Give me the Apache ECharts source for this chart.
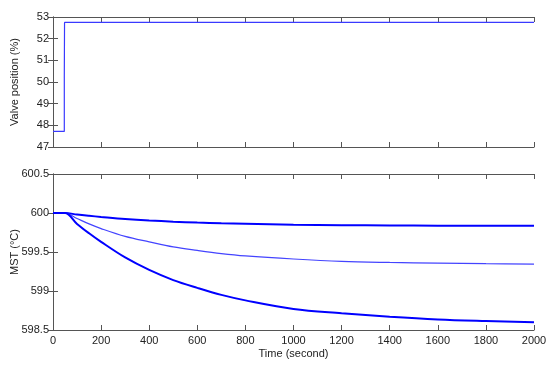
<!DOCTYPE html>
<html>
<head>
<meta charset="utf-8">
<script src="https://cdn.jsdelivr.net/npm/echarts@6/dist/echarts.min.js"></script>
<style>html,body{margin:0;padding:0;background:#fff}#c{width:550px;height:365px}</style>
</head>
<body>
<div id="c"></div>
<script>
// Valve position (top panel)
const valveTime = [0, 47, 47, 48, 48, 2000];
const valvePos  = [47.72, 47.72, 50.2, 50.2, 52.75, 52.75];

// MST (bottom panel)
const mstTime = [0, 50, 100, 150, 200, 300, 400, 500, 600, 700, 800, 1000, 1200, 1400, 1600, 1800, 2000];
const mstA = [600, 600, 599.98, 599.964, 599.95, 599.924, 599.904, 599.889, 599.877, 599.868, 599.861, 599.85, 599.844, 599.84, 599.838, 599.836, 599.835];
const mstB = [600, 600, 599.93, 599.86, 599.80, 599.70, 599.63, 599.565, 599.52, 599.48, 599.45, 599.41, 599.38, 599.366, 599.357, 599.35, 599.345];
const mstC = [600, 600, 599.86, 599.74, 599.63, 599.43, 599.27, 599.14, 599.04, 598.95, 598.88, 598.77, 598.715, 598.67, 598.635, 598.615, 598.60];

const pair = (xs, ys) => xs.map((x, i) => [x, ys[i]]);

const axisCol = '#555';
const font = 'Liberation Sans, Arial, sans-serif';
const lab = {color: '#222', fontSize: 11, fontFamily: font};

function xA(grid, pos, showLabel, name) {
  return {
    type: 'value', gridIndex: grid, position: pos, min: 0, max: 2000, interval: 200,
    axisLine: {show: true, lineStyle: {color: axisCol, width: 1}},
    axisTick: {show: true, inside: true, length: 5, lineStyle: {color: axisCol}},
    axisLabel: Object.assign({show: showLabel, margin: 5, formatter: v => String(v)}, lab),
    splitLine: {show: false},
    name: name || '', nameLocation: 'middle', nameGap: 18, nameMoveOverlap: false,
    nameTextStyle: lab
  };
}
function yA(grid, pos, min, max, interval, showLabel, name) {
  return {
    type: 'value', gridIndex: grid, position: pos, min: min, max: max, interval: interval,
    axisLine: {show: true, lineStyle: {color: axisCol, width: 1}},
    axisTick: {show: true, inside: true, length: 5, lineStyle: {color: axisCol}},
    axisLabel: Object.assign({show: showLabel, margin: 4, formatter: v => String(v)}, lab),
    splitLine: {show: false},
    name: name || '', nameLocation: 'middle', nameGap: 33, nameRotate: 90, nameMoveOverlap: false,
    nameTextStyle: lab
  };
}

const chart = echarts.init(document.getElementById('c'), null, {renderer: 'canvas'});
chart.setOption({
  animation: false,
  backgroundColor: '#fff',
  grid: [
    {left: 53, right: 16, top: 17, height: 130, outerBoundsMode: 'none', containLabel: false},
    {left: 53, right: 16, top: 174, height: 156, outerBoundsMode: 'none', containLabel: false}
  ],
  xAxis: [
    xA(0, 'bottom', false),
    xA(0, 'top', false),
    xA(1, 'bottom', true, 'Time (second)'),
    xA(1, 'top', false)
  ],
  yAxis: [
    yA(0, 'left', 47, 53, 1, true, 'Valve position (%)'),
    yA(0, 'right', 47, 53, 1, false),
    yA(1, 'left', 598.5, 600.5, 0.5, true, 'MST (°C)'),
    yA(1, 'right', 598.5, 600.5, 0.5, false)
  ],
  series: [
    {type: 'line', xAxisIndex: 0, yAxisIndex: 0, data: pair(valveTime, valvePos), showSymbol: false,
     lineStyle: {color: '#3a3aff', width: 1.2}},
    {type: 'line', xAxisIndex: 2, yAxisIndex: 2, data: pair(mstTime, mstA), showSymbol: false, smooth: 0.35,
     lineStyle: {color: '#0000ff', width: 2}},
    {type: 'line', xAxisIndex: 2, yAxisIndex: 2, data: pair(mstTime, mstB), showSymbol: false, smooth: 0.35,
     lineStyle: {color: '#4444ff', width: 1.2}},
    {type: 'line', xAxisIndex: 2, yAxisIndex: 2, data: pair(mstTime, mstC), showSymbol: false, smooth: 0.35,
     lineStyle: {color: '#0000ff', width: 2}}
  ]
});
</script>
</body>
</html>
